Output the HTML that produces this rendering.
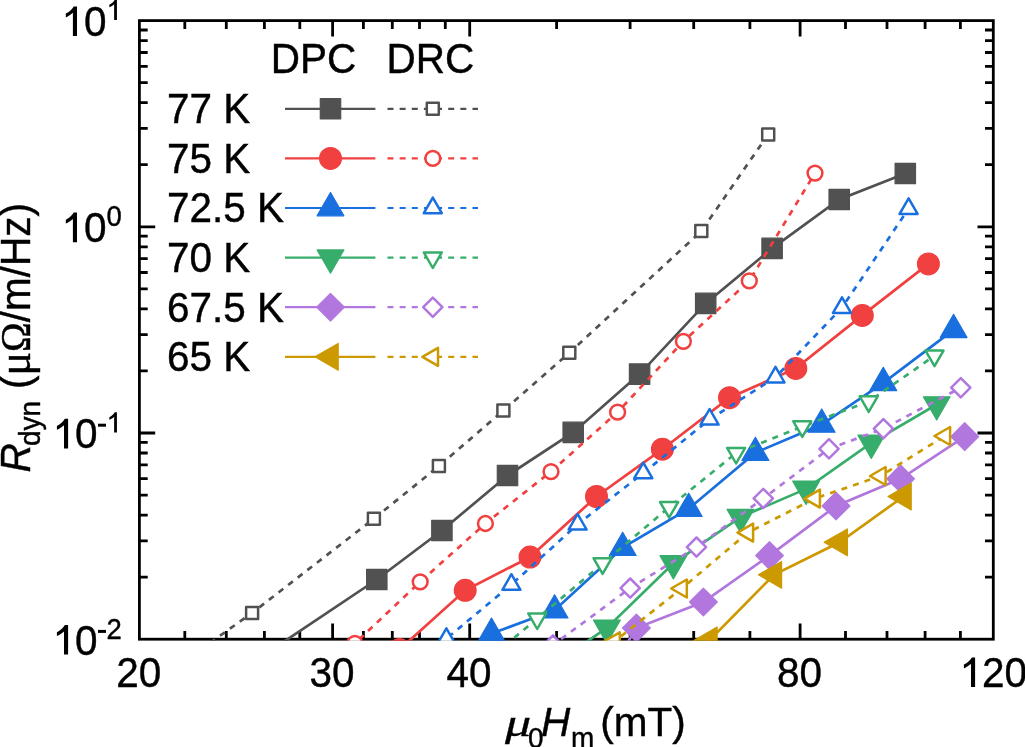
<!DOCTYPE html>
<html><head><meta charset="utf-8"><style>html,body{margin:0;padding:0;background:#fff;overflow:hidden}svg{display:block;will-change:transform}</style></head><body>
<svg width="1025" height="747" viewBox="0 0 1025 747">
<defs><clipPath id="cp"><rect x="137.9" y="19.1" width="856.9" height="621.6"/></clipPath></defs>
<rect width="1025" height="747" fill="#fff"/>
<g stroke="#000" stroke-width="2.8" fill="none">
<rect x="139.4" y="20.6" width="853.9" height="618.6"/>
<path d="M332.6 639.2V623.4M332.6 20.6V36.4M469.7 639.2V623.4M469.7 20.6V36.4M800.1 639.2V623.4M800.1 20.6V36.4M184.8 639.2V630.9M184.8 20.6V28.9M226.3 639.2V630.9M226.3 20.6V28.9M264.4 639.2V630.9M264.4 20.6V28.9M299.8 639.2V630.9M299.8 20.6V28.9M363.4 639.2V630.9M363.4 20.6V28.9M392.3 639.2V630.9M392.3 20.6V28.9M419.5 639.2V630.9M419.5 20.6V28.9M445.3 639.2V630.9M445.3 20.6V28.9M556.6 639.2V630.9M556.6 20.6V28.9M630.1 639.2V630.9M630.1 20.6V28.9M693.7 639.2V630.9M693.7 20.6V28.9M749.9 639.2V630.9M749.9 20.6V28.9M845.5 639.2V630.9M845.5 20.6V28.9M887 639.2V630.9M887 20.6V28.9M925.1 639.2V630.9M925.1 20.6V28.9M960.4 639.2V630.9M960.4 20.6V28.9M139.4 226.8H155.2M993.3 226.8H977.5M139.4 433H155.2M993.3 433H977.5M139.4 577.1H147.7M993.3 577.1H985M139.4 540.8H147.7M993.3 540.8H985M139.4 515.1H147.7M993.3 515.1H985M139.4 495.1H147.7M993.3 495.1H985M139.4 478.7H147.7M993.3 478.7H985M139.4 464.9H147.7M993.3 464.9H985M139.4 453H147.7M993.3 453H985M139.4 442.4H147.7M993.3 442.4H985M139.4 370.9H147.7M993.3 370.9H985M139.4 334.6H147.7M993.3 334.6H985M139.4 308.9H147.7M993.3 308.9H985M139.4 288.9H147.7M993.3 288.9H985M139.4 272.5H147.7M993.3 272.5H985M139.4 258.7H147.7M993.3 258.7H985M139.4 246.8H147.7M993.3 246.8H985M139.4 236.2H147.7M993.3 236.2H985M139.4 164.7H147.7M993.3 164.7H985M139.4 128.4H147.7M993.3 128.4H985M139.4 102.7H147.7M993.3 102.7H985M139.4 82.7H147.7M993.3 82.7H985M139.4 66.3H147.7M993.3 66.3H985M139.4 52.5H147.7M993.3 52.5H985M139.4 40.6H147.7M993.3 40.6H985M139.4 30H147.7M993.3 30H985"/>
</g>
<g clip-path="url(#cp)">
<path d="M270 651L376.8 579.5L441.9 530.5L507.5 475.5L573.2 432.4L639.6 374.1L705.7 303.4L772.1 248.4L839.2 199.5L905.3 173.5" fill="none" stroke="#515151" stroke-width="2.7"/>
<rect x="366.6" y="569.3" width="20.4" height="20.4" fill="#515151" stroke="#515151" stroke-width="1.2" stroke-linejoin="round"/>
<rect x="431.7" y="520.3" width="20.4" height="20.4" fill="#515151" stroke="#515151" stroke-width="1.2" stroke-linejoin="round"/>
<rect x="497.3" y="465.3" width="20.4" height="20.4" fill="#515151" stroke="#515151" stroke-width="1.2" stroke-linejoin="round"/>
<rect x="563" y="422.2" width="20.4" height="20.4" fill="#515151" stroke="#515151" stroke-width="1.2" stroke-linejoin="round"/>
<rect x="629.4" y="363.9" width="20.4" height="20.4" fill="#515151" stroke="#515151" stroke-width="1.2" stroke-linejoin="round"/>
<rect x="695.5" y="293.2" width="20.4" height="20.4" fill="#515151" stroke="#515151" stroke-width="1.2" stroke-linejoin="round"/>
<rect x="761.9" y="238.2" width="20.4" height="20.4" fill="#515151" stroke="#515151" stroke-width="1.2" stroke-linejoin="round"/>
<rect x="829" y="189.3" width="20.4" height="20.4" fill="#515151" stroke="#515151" stroke-width="1.2" stroke-linejoin="round"/>
<rect x="895.1" y="163.3" width="20.4" height="20.4" fill="#515151" stroke="#515151" stroke-width="1.2" stroke-linejoin="round"/>
<path d="M399.5 649.5L465.2 590.3L530 557.1L596.5 496.5L662.4 449.2L729.5 397.7L795.8 368.4L862.3 315.4L928.4 263.9" fill="none" stroke="#F14040" stroke-width="2.7"/>
<circle cx="399.5" cy="649.5" r="10.9" fill="#F14040" stroke="#F14040" stroke-width="1.2" stroke-linejoin="round"/>
<circle cx="465.2" cy="590.3" r="10.9" fill="#F14040" stroke="#F14040" stroke-width="1.2" stroke-linejoin="round"/>
<circle cx="530" cy="557.1" r="10.9" fill="#F14040" stroke="#F14040" stroke-width="1.2" stroke-linejoin="round"/>
<circle cx="596.5" cy="496.5" r="10.9" fill="#F14040" stroke="#F14040" stroke-width="1.2" stroke-linejoin="round"/>
<circle cx="662.4" cy="449.2" r="10.9" fill="#F14040" stroke="#F14040" stroke-width="1.2" stroke-linejoin="round"/>
<circle cx="729.5" cy="397.7" r="10.9" fill="#F14040" stroke="#F14040" stroke-width="1.2" stroke-linejoin="round"/>
<circle cx="795.8" cy="368.4" r="10.9" fill="#F14040" stroke="#F14040" stroke-width="1.2" stroke-linejoin="round"/>
<circle cx="862.3" cy="315.4" r="10.9" fill="#F14040" stroke="#F14040" stroke-width="1.2" stroke-linejoin="round"/>
<circle cx="928.4" cy="263.9" r="10.9" fill="#F14040" stroke="#F14040" stroke-width="1.2" stroke-linejoin="round"/>
<path d="M430 685L491.5 633.6L554.6 610.2L622.7 547.7L688.7 508.7L755.4 452.7L821.7 424.5L883.3 382.8L953.6 329.9" fill="none" stroke="#1A6FDF" stroke-width="2.7"/>
<path d="M491.5 618.1L504.9 641.4L478.1 641.4Z" fill="#1A6FDF" stroke="#1A6FDF" stroke-width="1.2" stroke-linejoin="round"/>
<path d="M554.6 594.7L568 618L541.2 618Z" fill="#1A6FDF" stroke="#1A6FDF" stroke-width="1.2" stroke-linejoin="round"/>
<path d="M622.7 532.2L636.1 555.5L609.3 555.5Z" fill="#1A6FDF" stroke="#1A6FDF" stroke-width="1.2" stroke-linejoin="round"/>
<path d="M688.7 493.2L702.1 516.5L675.3 516.5Z" fill="#1A6FDF" stroke="#1A6FDF" stroke-width="1.2" stroke-linejoin="round"/>
<path d="M755.4 437.2L768.8 460.4L742 460.4Z" fill="#1A6FDF" stroke="#1A6FDF" stroke-width="1.2" stroke-linejoin="round"/>
<path d="M821.7 409L835.1 432.2L808.3 432.2Z" fill="#1A6FDF" stroke="#1A6FDF" stroke-width="1.2" stroke-linejoin="round"/>
<path d="M883.3 367.3L896.7 390.6L869.9 390.6Z" fill="#1A6FDF" stroke="#1A6FDF" stroke-width="1.2" stroke-linejoin="round"/>
<path d="M953.6 314.4L967 337.6L940.2 337.6Z" fill="#1A6FDF" stroke="#1A6FDF" stroke-width="1.2" stroke-linejoin="round"/>
<path d="M560 660L606.9 627.9L673.4 563.4L740.5 517.1L806.1 488.9L871.3 442.9L936.7 404.5" fill="none" stroke="#37AD6B" stroke-width="2.7"/>
<path d="M606.9 643.4L620.3 620.1L593.5 620.1Z" fill="#37AD6B" stroke="#37AD6B" stroke-width="1.2" stroke-linejoin="round"/>
<path d="M673.4 578.9L686.8 555.6L660 555.6Z" fill="#37AD6B" stroke="#37AD6B" stroke-width="1.2" stroke-linejoin="round"/>
<path d="M740.5 532.6L753.9 509.4L727.1 509.4Z" fill="#37AD6B" stroke="#37AD6B" stroke-width="1.2" stroke-linejoin="round"/>
<path d="M806.1 504.4L819.5 481.1L792.7 481.1Z" fill="#37AD6B" stroke="#37AD6B" stroke-width="1.2" stroke-linejoin="round"/>
<path d="M871.3 458.4L884.7 435.1L857.9 435.1Z" fill="#37AD6B" stroke="#37AD6B" stroke-width="1.2" stroke-linejoin="round"/>
<path d="M936.7 420L950.1 396.8L923.3 396.8Z" fill="#37AD6B" stroke="#37AD6B" stroke-width="1.2" stroke-linejoin="round"/>
<path d="M620 655L636.4 628L703.4 602L769.5 555.6L836 506L900.6 478.8L964.7 436.6" fill="none" stroke="#B177DE" stroke-width="2.7"/>
<path d="M636.4 614.1L650.3 628L636.4 641.9L622.5 628Z" fill="#B177DE" stroke="#B177DE" stroke-width="1.2" stroke-linejoin="round"/>
<path d="M703.4 588.1L717.3 602L703.4 615.9L689.5 602Z" fill="#B177DE" stroke="#B177DE" stroke-width="1.2" stroke-linejoin="round"/>
<path d="M769.5 541.7L783.4 555.6L769.5 569.5L755.6 555.6Z" fill="#B177DE" stroke="#B177DE" stroke-width="1.2" stroke-linejoin="round"/>
<path d="M836 492.1L849.9 506L836 519.9L822.1 506Z" fill="#B177DE" stroke="#B177DE" stroke-width="1.2" stroke-linejoin="round"/>
<path d="M900.6 464.9L914.5 478.8L900.6 492.7L886.7 478.8Z" fill="#B177DE" stroke="#B177DE" stroke-width="1.2" stroke-linejoin="round"/>
<path d="M964.7 422.7L978.6 436.6L964.7 450.5L950.8 436.6Z" fill="#B177DE" stroke="#B177DE" stroke-width="1.2" stroke-linejoin="round"/>
<path d="M709.4 640.4L773.9 574.8L839.6 542.3L903.5 496.5" fill="none" stroke="#CC9900" stroke-width="2.7"/>
<path d="M693.9 640.4L717.1 627L717.1 653.8Z" fill="#CC9900" stroke="#CC9900" stroke-width="1.2" stroke-linejoin="round"/>
<path d="M758.4 574.8L781.6 561.4L781.6 588.2Z" fill="#CC9900" stroke="#CC9900" stroke-width="1.2" stroke-linejoin="round"/>
<path d="M824.1 542.3L847.4 528.9L847.4 555.7Z" fill="#CC9900" stroke="#CC9900" stroke-width="1.2" stroke-linejoin="round"/>
<path d="M888 496.5L911.2 483.1L911.2 509.9Z" fill="#CC9900" stroke="#CC9900" stroke-width="1.2" stroke-linejoin="round"/>
<path d="M200 650L252.1 612.9L373.9 518.7L438.9 466.1L503.4 410.5L569.3 352.8L701.3 231.1L768.2 134.4" fill="none" stroke="#515151" stroke-width="2.7" stroke-dasharray="6 6.14" stroke-dashoffset="11.88"/>
<rect x="246.1" y="606.9" width="12" height="12" fill="#fff" stroke="#515151" stroke-width="2.5" stroke-linejoin="round"/>
<rect x="367.9" y="512.7" width="12" height="12" fill="#fff" stroke="#515151" stroke-width="2.5" stroke-linejoin="round"/>
<rect x="432.9" y="460.1" width="12" height="12" fill="#fff" stroke="#515151" stroke-width="2.5" stroke-linejoin="round"/>
<rect x="497.4" y="404.5" width="12" height="12" fill="#fff" stroke="#515151" stroke-width="2.5" stroke-linejoin="round"/>
<rect x="563.3" y="346.8" width="12" height="12" fill="#fff" stroke="#515151" stroke-width="2.5" stroke-linejoin="round"/>
<rect x="695.3" y="225.1" width="12" height="12" fill="#fff" stroke="#515151" stroke-width="2.5" stroke-linejoin="round"/>
<rect x="762.2" y="128.4" width="12" height="12" fill="#fff" stroke="#515151" stroke-width="2.5" stroke-linejoin="round"/>
<path d="M354.9 643.4L420.2 581.8L485.4 523.5L551 471.6L617.6 412.2L683.4 341.3L749.3 280.9L815 173.1" fill="none" stroke="#F14040" stroke-width="2.7" stroke-dasharray="6 6.14" stroke-dashoffset="6.16"/>
<circle cx="354.9" cy="643.4" r="7.4" fill="#fff" stroke="#F14040" stroke-width="2.5" stroke-linejoin="round"/>
<circle cx="420.2" cy="581.8" r="7.4" fill="#fff" stroke="#F14040" stroke-width="2.5" stroke-linejoin="round"/>
<circle cx="485.4" cy="523.5" r="7.4" fill="#fff" stroke="#F14040" stroke-width="2.5" stroke-linejoin="round"/>
<circle cx="551" cy="471.6" r="7.4" fill="#fff" stroke="#F14040" stroke-width="2.5" stroke-linejoin="round"/>
<circle cx="617.6" cy="412.2" r="7.4" fill="#fff" stroke="#F14040" stroke-width="2.5" stroke-linejoin="round"/>
<circle cx="683.4" cy="341.3" r="7.4" fill="#fff" stroke="#F14040" stroke-width="2.5" stroke-linejoin="round"/>
<circle cx="749.3" cy="280.9" r="7.4" fill="#fff" stroke="#F14040" stroke-width="2.5" stroke-linejoin="round"/>
<circle cx="815" cy="173.1" r="7.4" fill="#fff" stroke="#F14040" stroke-width="2.5" stroke-linejoin="round"/>
<path d="M446.4 638.7L511.4 584.6L577.6 524.4L643.3 473L709.6 419.4L775.5 377.3L842 307.7L908.6 208.7" fill="none" stroke="#1A6FDF" stroke-width="2.7" stroke-dasharray="6 6.14" stroke-dashoffset="9.61"/>
<path d="M446.4 628.3L455.4 643.9L437.4 643.9Z" fill="#fff" stroke="#1A6FDF" stroke-width="2.5" stroke-linejoin="round"/>
<path d="M511.4 574.2L520.4 589.8L502.4 589.8Z" fill="#fff" stroke="#1A6FDF" stroke-width="2.5" stroke-linejoin="round"/>
<path d="M577.6 514L586.6 529.6L568.6 529.6Z" fill="#fff" stroke="#1A6FDF" stroke-width="2.5" stroke-linejoin="round"/>
<path d="M643.3 462.6L652.3 478.2L634.3 478.2Z" fill="#fff" stroke="#1A6FDF" stroke-width="2.5" stroke-linejoin="round"/>
<path d="M709.6 409L718.6 424.6L700.6 424.6Z" fill="#fff" stroke="#1A6FDF" stroke-width="2.5" stroke-linejoin="round"/>
<path d="M775.5 366.9L784.5 382.5L766.5 382.5Z" fill="#fff" stroke="#1A6FDF" stroke-width="2.5" stroke-linejoin="round"/>
<path d="M842 297.3L851 312.9L833 312.9Z" fill="#fff" stroke="#1A6FDF" stroke-width="2.5" stroke-linejoin="round"/>
<path d="M908.6 198.3L917.6 213.9L899.6 213.9Z" fill="#fff" stroke="#1A6FDF" stroke-width="2.5" stroke-linejoin="round"/>
<path d="M490 658L537.2 618.6L602.6 563.5L669.1 507.3L736.1 453.1L802.3 426.5L868.7 401.5L934.5 355.8" fill="none" stroke="#37AD6B" stroke-width="2.7" stroke-dasharray="6 6.14" stroke-dashoffset="4.82"/>
<path d="M537.2 629L546.2 613.4L528.2 613.4Z" fill="#fff" stroke="#37AD6B" stroke-width="2.5" stroke-linejoin="round"/>
<path d="M602.6 573.9L611.6 558.3L593.6 558.3Z" fill="#fff" stroke="#37AD6B" stroke-width="2.5" stroke-linejoin="round"/>
<path d="M669.1 517.7L678.1 502.1L660.1 502.1Z" fill="#fff" stroke="#37AD6B" stroke-width="2.5" stroke-linejoin="round"/>
<path d="M736.1 463.5L745.1 447.9L727.1 447.9Z" fill="#fff" stroke="#37AD6B" stroke-width="2.5" stroke-linejoin="round"/>
<path d="M802.3 436.9L811.3 421.3L793.3 421.3Z" fill="#fff" stroke="#37AD6B" stroke-width="2.5" stroke-linejoin="round"/>
<path d="M868.7 411.9L877.7 396.3L859.7 396.3Z" fill="#fff" stroke="#37AD6B" stroke-width="2.5" stroke-linejoin="round"/>
<path d="M934.5 366.2L943.5 350.6L925.5 350.6Z" fill="#fff" stroke="#37AD6B" stroke-width="2.5" stroke-linejoin="round"/>
<path d="M553 645L630.2 588.1L696.5 547.1L763.3 498.4L829 448.8L883.4 428.7L960.8 387.7" fill="none" stroke="#B177DE" stroke-width="2.7" stroke-dasharray="6 6.14" stroke-dashoffset="1.97"/>
<path d="M553 635.4L562.6 645L553 654.6L543.4 645Z" fill="#fff" stroke="#B177DE" stroke-width="2.5" stroke-linejoin="round"/>
<path d="M630.2 578.5L639.8 588.1L630.2 597.7L620.6 588.1Z" fill="#fff" stroke="#B177DE" stroke-width="2.5" stroke-linejoin="round"/>
<path d="M696.5 537.5L706.1 547.1L696.5 556.7L686.9 547.1Z" fill="#fff" stroke="#B177DE" stroke-width="2.5" stroke-linejoin="round"/>
<path d="M763.3 488.8L772.9 498.4L763.3 508L753.7 498.4Z" fill="#fff" stroke="#B177DE" stroke-width="2.5" stroke-linejoin="round"/>
<path d="M829 439.2L838.6 448.8L829 458.4L819.4 448.8Z" fill="#fff" stroke="#B177DE" stroke-width="2.5" stroke-linejoin="round"/>
<path d="M883.4 419.1L893 428.7L883.4 438.3L873.8 428.7Z" fill="#fff" stroke="#B177DE" stroke-width="2.5" stroke-linejoin="round"/>
<path d="M960.8 378.1L970.4 387.7L960.8 397.3L951.2 387.7Z" fill="#fff" stroke="#B177DE" stroke-width="2.5" stroke-linejoin="round"/>
<path d="M614.6 641.3L681.6 588.5L747.9 532.6L814.7 498.6L880.4 476L944.9 436" fill="none" stroke="#CC9900" stroke-width="2.7" stroke-dasharray="6 6.14" stroke-dashoffset="3.84"/>
<path d="M604.2 641.3L619.8 632.3L619.8 650.3Z" fill="#fff" stroke="#CC9900" stroke-width="2.5" stroke-linejoin="round"/>
<path d="M671.2 588.5L686.8 579.5L686.8 597.5Z" fill="#fff" stroke="#CC9900" stroke-width="2.5" stroke-linejoin="round"/>
<path d="M737.5 532.6L753.1 523.6L753.1 541.6Z" fill="#fff" stroke="#CC9900" stroke-width="2.5" stroke-linejoin="round"/>
<path d="M804.3 498.6L819.9 489.6L819.9 507.6Z" fill="#fff" stroke="#CC9900" stroke-width="2.5" stroke-linejoin="round"/>
<path d="M870 476L885.6 467L885.6 485Z" fill="#fff" stroke="#CC9900" stroke-width="2.5" stroke-linejoin="round"/>
<path d="M934.5 436L950.1 427L950.1 445Z" fill="#fff" stroke="#CC9900" stroke-width="2.5" stroke-linejoin="round"/>
</g>
<g fill="#000">
<text transform="translate(270.7,73.2) scale(1,1.045)" font-family="Liberation Sans, sans-serif" font-size="40.5" stroke="#000" stroke-width="0.4" >DPC</text>
<text transform="translate(386.5,73.2) scale(1,1.045)" font-family="Liberation Sans, sans-serif" font-size="40.5" stroke="#000" stroke-width="0.4" >DRC</text>
<text transform="translate(167,123.1) scale(1,1.045)" font-family="Liberation Sans, sans-serif" font-size="40.5" stroke="#000" stroke-width="0.4" >77 K</text>
<path d="M285 108.8H375.4" stroke="#515151" stroke-width="2.2"/>
<rect x="320.3" y="98.6" width="20.4" height="20.4" fill="#515151" stroke="#515151" stroke-width="1.2" stroke-linejoin="round"/>
<path d="M387.5 108.8H478" stroke="#515151" stroke-width="2.2" stroke-dasharray="6 6.14"/>
<rect x="426.8" y="102.8" width="12" height="12" fill="#fff" stroke="#515151" stroke-width="2.5" stroke-linejoin="round"/>
<text transform="translate(167,172.7) scale(1,1.045)" font-family="Liberation Sans, sans-serif" font-size="40.5" stroke="#000" stroke-width="0.4" >75 K</text>
<path d="M285 158.4H375.4" stroke="#F14040" stroke-width="2.2"/>
<circle cx="330.5" cy="158.4" r="10.9" fill="#F14040" stroke="#F14040" stroke-width="1.2" stroke-linejoin="round"/>
<path d="M387.5 158.4H478" stroke="#F14040" stroke-width="2.2" stroke-dasharray="6 6.14"/>
<circle cx="432.8" cy="158.4" r="7.4" fill="#fff" stroke="#F14040" stroke-width="2.5" stroke-linejoin="round"/>
<text transform="translate(167,222.3) scale(1,1.045)" font-family="Liberation Sans, sans-serif" font-size="40.5" stroke="#000" stroke-width="0.4" >72.5 K</text>
<path d="M285 208H375.4" stroke="#1A6FDF" stroke-width="2.2"/>
<path d="M330.5 192.5L343.9 215.8L317.1 215.8Z" fill="#1A6FDF" stroke="#1A6FDF" stroke-width="1.2" stroke-linejoin="round"/>
<path d="M387.5 208H478" stroke="#1A6FDF" stroke-width="2.2" stroke-dasharray="6 6.14"/>
<path d="M432.8 197.6L441.8 213.2L423.8 213.2Z" fill="#fff" stroke="#1A6FDF" stroke-width="2.5" stroke-linejoin="round"/>
<text transform="translate(167,271.9) scale(1,1.045)" font-family="Liberation Sans, sans-serif" font-size="40.5" stroke="#000" stroke-width="0.4" >70 K</text>
<path d="M285 257.6H375.4" stroke="#37AD6B" stroke-width="2.2"/>
<path d="M330.5 273.1L343.9 249.9L317.1 249.9Z" fill="#37AD6B" stroke="#37AD6B" stroke-width="1.2" stroke-linejoin="round"/>
<path d="M387.5 257.6H478" stroke="#37AD6B" stroke-width="2.2" stroke-dasharray="6 6.14"/>
<path d="M432.8 268L441.8 252.4L423.8 252.4Z" fill="#fff" stroke="#37AD6B" stroke-width="2.5" stroke-linejoin="round"/>
<text transform="translate(167,321.5) scale(1,1.045)" font-family="Liberation Sans, sans-serif" font-size="40.5" stroke="#000" stroke-width="0.4" >67.5 K</text>
<path d="M285 307.2H375.4" stroke="#B177DE" stroke-width="2.2"/>
<path d="M330.5 293.3L344.4 307.2L330.5 321.1L316.6 307.2Z" fill="#B177DE" stroke="#B177DE" stroke-width="1.2" stroke-linejoin="round"/>
<path d="M387.5 307.2H478" stroke="#B177DE" stroke-width="2.2" stroke-dasharray="6 6.14"/>
<path d="M432.8 297.6L442.4 307.2L432.8 316.8L423.2 307.2Z" fill="#fff" stroke="#B177DE" stroke-width="2.5" stroke-linejoin="round"/>
<text transform="translate(167,371.1) scale(1,1.045)" font-family="Liberation Sans, sans-serif" font-size="40.5" stroke="#000" stroke-width="0.4" >65 K</text>
<path d="M285 356.8H375.4" stroke="#CC9900" stroke-width="2.2"/>
<path d="M315 356.8L338.2 343.4L338.2 370.2Z" fill="#CC9900" stroke="#CC9900" stroke-width="1.2" stroke-linejoin="round"/>
<path d="M387.5 356.8H478" stroke="#CC9900" stroke-width="2.2" stroke-dasharray="6 6.14"/>
<path d="M422.4 356.8L438 347.8L438 365.8Z" fill="#fff" stroke="#CC9900" stroke-width="2.5" stroke-linejoin="round"/>
<text transform="translate(138.8,687) scale(1,1.045)" font-family="Liberation Sans, sans-serif" font-size="40.5" stroke="#000" stroke-width="0.4" text-anchor="middle">20</text>
<text transform="translate(332,687) scale(1,1.045)" font-family="Liberation Sans, sans-serif" font-size="40.5" stroke="#000" stroke-width="0.4" text-anchor="middle">30</text>
<text transform="translate(469.1,687) scale(1,1.045)" font-family="Liberation Sans, sans-serif" font-size="40.5" stroke="#000" stroke-width="0.4" text-anchor="middle">40</text>
<text transform="translate(799.5,687) scale(1,1.045)" font-family="Liberation Sans, sans-serif" font-size="40.5" stroke="#000" stroke-width="0.4" text-anchor="middle">80</text>
<path transform="translate(959.6,687) scale(1.0000)" d="M15.5,-29.6V0H11.4V-23.2C9.5,-21.4 6.8,-19.8 4.3,-18.6V-22.4C7.8,-24.1 10.6,-26.8 12.3,-29.6Z" fill="#000"/>
<text transform="translate(982.1,687) scale(1,1.045)" font-family="Liberation Sans, sans-serif" font-size="40.5" stroke="#000" stroke-width="0.4" >20</text>
<path transform="translate(61.5,36) scale(1.0000)" d="M15.5,-29.6V0H11.4V-23.2C9.5,-21.4 6.8,-19.8 4.3,-18.6V-22.4C7.8,-24.1 10.6,-26.8 12.3,-29.6Z" fill="#000"/>
<text transform="translate(84,36) scale(1,1.045)" font-family="Liberation Sans, sans-serif" font-size="40.5" stroke="#000" stroke-width="0.4" >0</text>
<path transform="translate(106.4,20) scale(0.6790)" d="M15.5,-29.6V0H11.4V-23.2C9.5,-21.4 6.8,-19.8 4.3,-18.6V-22.4C7.8,-24.1 10.6,-26.8 12.3,-29.6Z" fill="#000"/>
<path transform="translate(61.5,242.2) scale(1.0000)" d="M15.5,-29.6V0H11.4V-23.2C9.5,-21.4 6.8,-19.8 4.3,-18.6V-22.4C7.8,-24.1 10.6,-26.8 12.3,-29.6Z" fill="#000"/>
<text transform="translate(84,242.2) scale(1,1.045)" font-family="Liberation Sans, sans-serif" font-size="40.5" stroke="#000" stroke-width="0.4" >0</text>
<text transform="translate(106.4,226.2) scale(1,1.045)" font-family="Liberation Sans, sans-serif" font-size="27.5" stroke="#000" stroke-width="0.4" >0</text>
<path transform="translate(52.6,448.4) scale(1.0000)" d="M15.5,-29.6V0H11.4V-23.2C9.5,-21.4 6.8,-19.8 4.3,-18.6V-22.4C7.8,-24.1 10.6,-26.8 12.3,-29.6Z" fill="#000"/>
<text transform="translate(75.1,448.4) scale(1,1.045)" font-family="Liberation Sans, sans-serif" font-size="40.5" stroke="#000" stroke-width="0.4" >0</text>
<rect x="98" y="423.7" width="8" height="3" fill="#000"/>
<path transform="translate(106.4,432.4) scale(0.6790)" d="M15.5,-29.6V0H11.4V-23.2C9.5,-21.4 6.8,-19.8 4.3,-18.6V-22.4C7.8,-24.1 10.6,-26.8 12.3,-29.6Z" fill="#000"/>
<path transform="translate(52.6,654.6) scale(1.0000)" d="M15.5,-29.6V0H11.4V-23.2C9.5,-21.4 6.8,-19.8 4.3,-18.6V-22.4C7.8,-24.1 10.6,-26.8 12.3,-29.6Z" fill="#000"/>
<text transform="translate(75.1,654.6) scale(1,1.045)" font-family="Liberation Sans, sans-serif" font-size="40.5" stroke="#000" stroke-width="0.4" >0</text>
<rect x="98" y="629.9" width="8" height="3" fill="#000"/>
<text transform="translate(106.4,638.6) scale(1,1.045)" font-family="Liberation Sans, sans-serif" font-size="27.5" stroke="#000" stroke-width="0.4" >2</text>
<g transform="translate(29.5,472.5) rotate(-90)">
<text transform="translate(0,0) scale(1,1.045)" font-family="Liberation Sans, sans-serif" font-size="40.5" stroke="#000" stroke-width="0.4" font-style="italic">R</text>
<text transform="translate(26.5,10.6) scale(1,1.045)" font-family="Liberation Sans, sans-serif" font-size="28" stroke="#000" stroke-width="0.4" >dyn</text>
<text transform="translate(83.5,0) scale(1,1.045)" font-family="Liberation Sans, sans-serif" font-size="40.5" stroke="#000" stroke-width="0.4" >(<tspan font-family="Liberation Serif" font-size="44">μ</tspan><tspan font-family="Liberation Serif" font-size="40">Ω</tspan>/m/Hz)</text>
</g>
<text transform="translate(505,736) scale(1.19,0.88)" font-family="Liberation Serif" font-size="44" font-style="italic" stroke="#000" stroke-width="0.3">μ</text>
<text transform="translate(528,748) scale(1,1.045)" font-family="Liberation Sans, sans-serif" font-size="28" stroke="#000" stroke-width="0.4" >0</text>
<text transform="translate(541,736) scale(1,1.0)" font-family="Liberation Sans, sans-serif" font-size="40.5" stroke="#000" stroke-width="0.4" font-style="italic">H</text>
<text transform="translate(571,748) scale(1,1.045)" font-family="Liberation Sans, sans-serif" font-size="28" stroke="#000" stroke-width="0.4" >m</text>
<text transform="translate(600.2,736) scale(1,1.0)" font-family="Liberation Sans, sans-serif" font-size="40.5" stroke="#000" stroke-width="0.4" >(mT)</text>
</g>
</svg>
</body></html>
